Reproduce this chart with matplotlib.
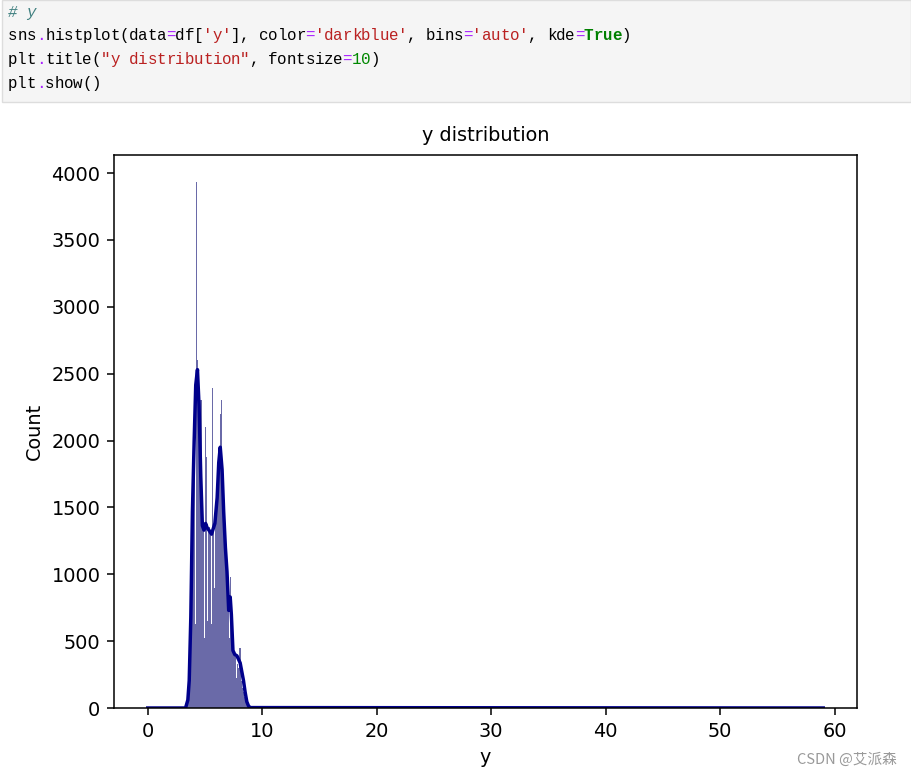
import numpy as np
import matplotlib.pyplot as plt
from matplotlib.patches import Rectangle

# histogram bins (width 0.1) and counts
bin_edges = np.round(np.arange(3.4, 9.0001, 0.1), 2)
counts = [30, 150, 400, 800, 1300, 1700, 2000, 630, 3930, 2600,
          2300, 1900, 2300, 1500, 1400, 527, 2100, 1875, 650, 1350,
          1300, 630, 2390, 1350, 900, 1400, 1500, 1700, 1900, 2200,
          2300, 1700, 1450, 1200, 1000, 850, 760, 527, 976, 650,
          450, 400, 380, 227, 330, 300, 452, 200, 150, 120,
          80, 50, 30, 15, 5, 2]

# kde curve
kde_x = [0, 3.3, 3.5, 3.62, 3.76, 3.9, 4.05, 4.19, 4.34, 4.48, 4.63, 4.77,
         4.91, 5.05, 5.2, 5.34, 5.57, 5.86, 6.06, 6.2, 6.33, 6.49, 6.63,
         6.78, 6.92, 7.07, 7.2, 7.3, 7.44, 7.6, 7.79, 8.07, 8.36, 8.5,
         8.65, 8.8, 8.95, 59]
kde_y = [0, 0, 60, 205, 680, 1468, 1990, 2415, 2530, 2257, 1730, 1363,
         1330, 1380, 1345, 1330, 1300, 1380, 1573, 1835, 1950, 1783, 1468,
         1200, 1019, 730, 830, 700, 430, 400, 390, 337, 205, 120,
         47, 15, 3, 0]

x_ticks = [0, 10, 20, 30, 40, 50, 60]
y_ticks = [0, 500, 1000, 1500, 2000, 2500, 3000, 3500, 4000]

# notebook code cell above the plot
code_lines = [
    [("# y", "#408080", "italic", "normal")],
    [("sns", "k", "normal", "normal"), (".", "#AA22FF", "normal", "normal"),
     ("histplot(data", "k", "normal", "normal"), ("=", "#AA22FF", "normal", "normal"),
     ("df[", "k", "normal", "normal"), ("'y'", "#BA2121", "normal", "normal"),
     ("], color", "k", "normal", "normal"), ("=", "#AA22FF", "normal", "normal"),
     ("'darkblue'", "#BA2121", "normal", "normal"), (", bins", "k", "normal", "normal"),
     ("=", "#AA22FF", "normal", "normal"), ("'auto'", "#BA2121", "normal", "normal"),
     (", kde", "k", "normal", "normal"), ("=", "#AA22FF", "normal", "normal"),
     ("True", "#008000", "normal", "bold"), (")", "k", "normal", "normal")],
    [("plt", "k", "normal", "normal"), (".", "#AA22FF", "normal", "normal"),
     ("title(", "k", "normal", "normal"), ('"y distribution"', "#BA2121", "normal", "normal"),
     (", fontsize", "k", "normal", "normal"), ("=", "#AA22FF", "normal", "normal"),
     ("10", "#008800", "normal", "normal"), (")", "k", "normal", "normal")],
    [("plt", "k", "normal", "normal"), (".", "#AA22FF", "normal", "normal"),
     ("show()", "k", "normal", "normal")],
]

W, H = 911, 778
fig = plt.figure(figsize=(W / 100, H / 100), dpi=100)

fig.add_artist(Rectangle((2 / W, 1 - 102 / H), 909 / W, 102 / H,
                         transform=fig.transFigure, facecolor="#f5f5f5",
                         edgecolor="#dddddd", linewidth=1))
cw = 9.29
line_base = [17, 40, 64, 88]
for ly, tokens in zip(line_base, code_lines):
    col = 0
    for txt, c, st, wt in tokens:
        for ch in txt:
            if ch != " ":
                fig.text((8 + col * cw) / W, 1 - ly / H, ch, color=c, style=st,
                         weight=wt, family="Liberation Mono", fontsize=11.4,
                         va="baseline", ha="left")
            col += 1

ax = fig.add_axes([114 / W, 1 - 708 / H, 743 / W, 553 / H])
widths = np.diff(bin_edges)
ax.bar(bin_edges[:-1], counts, width=widths, align="edge", color="#6a6aa8",
       linewidth=0)
ax.plot(kde_x, kde_y, color="darkblue", linewidth=2.5)

ax.set_xlim(-2.95, 61.95)
ax.set_ylim(0, 4135)
ax.set_xticks(x_ticks)
ax.set_yticks(y_ticks)
ax.tick_params(labelsize=13.9, length=4.9, width=1.1, pad=4.9)
for s in ax.spines.values():
    s.set_linewidth(1.1)
ax.set_title("y distribution", fontsize=13.9, pad=10)
ax.set_xlabel("y", fontsize=13.9, labelpad=5.6)
ax.set_ylabel("Count", fontsize=13.9, labelpad=5.6)

fig.text(897 / W, 1 - 760 / H, "CSDN @艾派森", color="#999999", fontsize=10.5,
         family=["Noto Sans CJK SC", "DejaVu Sans"], ha="right", va="center")

fig.savefig("out.png", dpi=100)
